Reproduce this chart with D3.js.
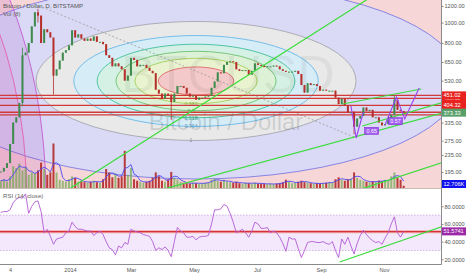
<!DOCTYPE html>
<html>
<head>
<meta charset="utf-8">
<script src="https://cdn.jsdelivr.net/npm/d3@7"></script>
<style>
  html, body { margin: 0; padding: 0; background: #fff; }
  svg { display: block; font-family: "Liberation Sans", Arial, sans-serif; }
</style>
</head>
<body>
<div id="chart"></div>
<script>
// one sample every 3 days starting here
var startDate = "2013-10-26";
var stepDays = 3;

var closes = [
  196, 204, 215, 265, 335, 355, 415, 700, 720, 800,
  960, 1120, 1080, 800, 930, 900, 850, 560, 600, 660,
  720, 740, 780, 920, 850, 880, 840, 820, 840, 820,
  860, 810, 810, 790, 700, 680, 620, 640, 620, 600,
  530, 560, 680, 665, 620, 630, 630, 610, 590, 575,
  480, 460, 435, 460, 450, 420, 460, 500, 500, 490,
  460, 445, 450, 430, 440, 440, 445, 450, 490, 525,
  580, 575, 630, 650, 655, 650, 600, 590, 595, 595,
  565, 590, 640, 630, 625, 615, 620, 620, 625, 620,
  600, 590, 585, 585, 585, 590, 570, 505, 465, 515,
  505, 510, 500, 475, 480, 475, 475, 475, 440, 410,
  435, 405, 375, 375, 320, 350, 360, 395, 380, 385,
  355, 355, 335, 325, 330, 345, 365, 430, 385, 380,
  373.33
];

// thousands
var volumes = [
  23, 26, 21, 32, 53, 49, 58, 44, 51, 35,
  40, 38, 44, 60, 47, 35, 40, 99, 40, 25,
  23, 21, 26, 32, 29, 21, 23, 20, 19, 21,
  23, 20, 19, 26, 47, 40, 30, 38, 29, 32,
  84, 35, 49, 26, 23, 21, 19, 21, 23, 29,
  40, 32, 23, 21, 26, 41, 29, 25, 21, 19,
  18, 17, 19, 18, 17, 18, 19, 20, 25, 27,
  23, 21, 25, 21, 20, 19, 21, 18, 17, 19,
  18, 17, 19, 17, 17, 17, 16, 17, 16, 17,
  18, 20, 25, 21, 18, 19, 21, 23, 20, 19,
  18, 17, 18, 17, 18, 19, 20, 19, 26, 30,
  25, 23, 26, 27, 40, 29, 25, 23, 21, 20,
  22, 21, 23, 22, 25, 23, 32, 40, 29, 25,
  12.706
];

var rsiValues = [
  73, 74, 74, 76, 84, 88, 90, 89, 94, 72,
  80, 85, 86, 74, 50, 54, 46, 37, 43, 44,
  45, 50, 52, 62, 57, 54, 54, 53, 52, 52,
  47, 50, 52, 48, 40, 33, 31, 25, 35, 33,
  39, 37, 54, 52, 51, 50, 48, 47, 46, 40,
  30, 33, 31, 34, 30, 23, 40, 56, 52, 50,
  45, 45, 46, 42, 45, 46, 46, 47, 60, 76,
  76, 77, 82, 80, 72, 62, 50, 52, 54, 50,
  45, 52, 62, 60, 55, 55, 56, 50, 52, 50,
  45, 38, 29, 45, 43, 43, 32, 22, 30, 39,
  40, 40, 39, 39, 40, 38, 37, 40, 30, 22,
  43, 37, 45, 35, 26, 38, 47, 53, 48, 44,
  41, 39, 40, 37, 44, 50, 60, 68, 50, 45,
  51.5741
];

// [sample index, high, low]
var wicks = [[7, 760, 400], [12, 1163, 1000], [17, 690, 455], [55, 460, 345], [114, 380, 295], [127, 450, 365]];

var priceTicks = [1200, 1000, 800, 650, 530, 335, 275, 235, 195];
var rsiTicks = [20, 40, 60, 80];
var timeTicks = ["2013-11-04", "2014-01-01", "2014-03-01", "2014-05-01", "2014-07-01", "2014-09-01", "2014-11-01"];
var timeLabels = ["4", "2014", "Mar", "May", "Jul", "Sep", "Nov"];

var hLines = [451.02, 436.11, 404.32, 375.1, 364.2];
var hLineLabels = [436.11, 451.02, 404.32];
var lastPrice = 373.33;
var lastVolume = "12.706K";
var lastRsi = 51.5741;
var rsiLevel = 51.3;

var fibLevels = [2.618, 1.618, 1, 0.764, 0.618, 0.5, 0.382, 0.236];
var fibLabelLevels = [0.382, 0.5, 0.618, 0.764, 1];
var fibCenter = ["2014-05-03", 528];
var fibDiag = [["2013-12-05", 1187], ["2014-10-05", 283]];

// green drawings [date, price]
var ray1 = [["2014-02-18", 230], ["2014-07-23", 701]];
var ray2 = [["2014-05-07", 180.5], ["2014-12-06", 348]];
var ray3 = [["2014-10-28", 173], ["2014-12-26", 215]];
var seg4 = [["2014-09-22", 410.5], ["2014-12-07", 483.6]];
var ray5 = [["2014-10-11", 322.6], ["2014-12-26", 415]];
var rsiRay = [["2014-09-19", 17], ["2014-12-26", 56.6]];

// purple pattern
var zig1 = [["2014-09-30", 401.6], ["2014-10-05", 283], ["2014-10-12", 376]];
var zig2 = [["2014-11-02", 326], ["2014-11-13", 443], ["2014-11-21", 348.5], ["2014-12-05", 489]];
var zigLabels = [["2014-10-20", 306, "0.65"], ["2014-11-12", 340, "0.57"]];

var W = 466, H = 275;
var plotR = 441.5, mainB = 188, rsiT = 189, rsiB = 264.5;
var font = 5.6;

var parse = d3.utcParse("%Y-%m-%d");
var t0 = parse(startDate);
var data = closes.map(function (c, i) {
  var o = i > 0 ? closes[i - 1] : c;
  return { date: d3.utcDay.offset(t0, i * stepDays), open: o, close: c,
    high: Math.max(o, c), low: Math.min(o, c), volume: volumes[i], rsi: rsiValues[i] };
});
wicks.forEach(function (w) { data[w[0]].high = w[1]; data[w[0]].low = w[2]; });

var day0 = Date.UTC(2014, 0, 1), dayMs = 864e5;
var x = d3.scaleUtc()
  .domain([new Date(day0 - 67.76 * dayMs), new Date(day0 + 360.1 * dayMs)])
  .range([0, 442]);
var y = d3.scaleLog().domain([163.7, 1281]).range([mainB, 0]);
var vy = d3.scaleLinear().domain([0, 100]).range([192, 143]);
var ry = d3.scaleLinear().domain([14.7, 99.5]).range([264, 189]);

var svg = d3.select("#chart").append("svg").attr("width", W).attr("height", H);
svg.append("rect").attr("width", W).attr("height", H).attr("fill", "#fff");

var defs = svg.append("defs");
defs.append("clipPath").attr("id", "mainClip").append("rect")
  .attr("x", 0).attr("y", 0).attr("width", plotR).attr("height", mainB);
defs.append("clipPath").attr("id", "rsiClip").append("rect")
  .attr("x", 0).attr("y", rsiT).attr("width", plotR).attr("height", rsiB - rsiT);

var main = svg.append("g").attr("clip-path", "url(#mainClip)");

// fib circles
var fibStyle = {
  2.618: ["#f7d6d8", "#f07080"], 1.618: ["#dadaf6", "#7d7be2"], 1: ["#e9e9ea", "#a6a6ae"],
  0.764: ["#d6ecf6", "#6ab8e6"], 0.618: ["#d5f1e6", "#3fbf9c"], 0.5: ["#dcf1d6", "#6cc070"],
  0.382: ["#e9f3d0", "#a6cf5e"], 0.236: ["#f4c9c9", "#e06a6a"]
};
var cx = x(parse(fibCenter[0])), cy = y(fibCenter[1]);
var rx1 = 160, ry1 = 59.5;
var rxOuter = 265, ryOuter = 98;
function fibRx(d) { return d === 1.618 ? rxOuter : d === 2.618 ? rxOuter * 1.618 : rx1 * d; }
function fibRy(d) { return d === 1.618 ? ryOuter : d === 2.618 ? ryOuter * 1.618 : ry1 * d; }
main.selectAll(".fib").data(fibLevels).enter().append("ellipse")
  .attr("cx", cx).attr("cy", cy)
  .attr("rx", fibRx).attr("ry", fibRy)
  .attr("fill", function (d) { return fibStyle[d][0]; })
  .attr("stroke", function (d) { return fibStyle[d][1]; })
  .attr("stroke-width", 0.9);

// left arcs
main.append("ellipse").attr("cx", -150).attr("cy", 200).attr("rx", 196).attr("ry", 346)
  .attr("fill", "rgba(156,39,176,0.13)").attr("stroke", "#c35bd0").attr("stroke-width", 0.9);
main.append("ellipse").attr("cx", -150).attr("cy", 200).attr("rx", 177).attr("ry", 312)
  .attr("fill", "rgba(233,30,140,0.08)").attr("stroke", "#e260b4").attr("stroke-width", 0.9);

// watermark
main.append("text").attr("x", 228).attr("y", 92).attr("text-anchor", "middle")
  .attr("font-size", 52).attr("fill", "rgba(0,0,0,0.05)").text("BTCUSD");
main.append("text").attr("x", 226).attr("y", 130).attr("text-anchor", "middle")
  .attr("font-size", 24).attr("fill", "rgba(0,0,0,0.13)").text("Bitcoin / Dollar");

// fib labels
main.selectAll(".fibLabel").data(fibLabelLevels).enter().append("text")
  .attr("x", cx - 5).attr("y", function (d) { return cy + ry1 * d + 2; })
  .attr("text-anchor", "middle").attr("font-size", 5.2)
  .attr("fill", function (d) { return d3.color(fibStyle[d][1]).darker(0.5); })
  .text(function (d) { return d; });

main.append("line")
  .attr("x1", x(parse(fibDiag[0][0]))).attr("y1", y(fibDiag[0][1]))
  .attr("x2", x(parse(fibDiag[1][0]))).attr("y2", y(fibDiag[1][1]))
  .attr("stroke", "#999").attr("stroke-width", 0.8).attr("stroke-dasharray", "2,2");

// horizontal red levels
main.selectAll(".hl").data(hLines).enter().append("line")
  .attr("x1", 0).attr("x2", plotR)
  .attr("y1", function (d) { return y(d); }).attr("y2", function (d) { return y(d); })
  .attr("stroke", "#d23a3a").attr("stroke-width", 1.3);

// volume
main.selectAll(".vol").data(data).enter().append("rect")
  .attr("x", function (d) { return x(d.date) - 1; })
  .attr("width", 2)
  .attr("y", function (d) { return vy(d.volume); })
  .attr("height", function (d) { return Math.max(0, 192 - vy(d.volume)); })
  .attr("fill", function (d) { return d.close >= d.open ? "rgba(110,170,80,0.7)" : "rgba(175,30,30,0.85)"; });

var ma = data.map(function (d, i) {
  var s = data.slice(Math.max(0, i - 2), i + 1);
  return { date: d.date, v: d3.mean(s, function (e) { return e.volume; }) };
});
main.append("path").datum(ma)
  .attr("d", d3.line().x(function (d) { return x(d.date); }).y(function (d) { return vy(d.v); }))
  .attr("fill", "none").attr("stroke", "#4a4af0").attr("stroke-width", 0.9);

// candles
var up = "#3f8a4d", down = "#b5302c";
var candle = main.selectAll(".candle").data(data).enter().append("g");
candle.append("line")
  .attr("x1", function (d) { return x(d.date); }).attr("x2", function (d) { return x(d.date); })
  .attr("y1", function (d) { return y(d.high); }).attr("y2", function (d) { return y(d.low); })
  .attr("stroke", function (d) { return d.close >= d.open ? up : down; }).attr("stroke-width", 0.8);
candle.append("rect")
  .attr("x", function (d) { return x(d.date) - 1; }).attr("width", 2)
  .attr("y", function (d) { return y(Math.max(d.open, d.close)); })
  .attr("height", function (d) { return Math.max(1, Math.abs(y(d.open) - y(d.close))); })
  .attr("fill", function (d) { return d.close >= d.open ? up : down; });

// drawings
function pt(p, scale) { return [x(parse(p[0])), scale(p[1])]; }
function drawLine(g, pts, scale, extL, extR, color, w) {
  var a = pt(pts[0], scale), b = pt(pts[1], scale);
  var k = (b[1] - a[1]) / (b[0] - a[0]);
  var xa = extL ? -10 : a[0], xb = extR ? 460 : b[0];
  g.append("line")
    .attr("x1", xa).attr("y1", a[1] + k * (xa - a[0]))
    .attr("x2", xb).attr("y2", a[1] + k * (xb - a[0]))
    .attr("stroke", color).attr("stroke-width", w);
}
var green = "#3ddc3d";
drawLine(main, ray1, y, true, true, green, 1.2);
drawLine(main, ray2, y, true, true, green, 1.2);
drawLine(main, ray3, y, true, true, green, 1.2);
drawLine(main, seg4, y, false, false, green, 1.2);
drawLine(main, ray5, y, false, true, green, 1.2);

var zigLine = d3.line().x(function (p) { return x(parse(p[0])); }).y(function (p) { return y(p[1]); });
[zig1, zig2].forEach(function (z) {
  main.append("path").attr("d", zigLine(z)).attr("fill", "none")
    .attr("stroke", "#9a40f0").attr("stroke-width", 1.1);
});
zigLabels.forEach(function (l) {
  var lx = x(parse(l[0])), ly = y(l[1]);
  main.append("rect").attr("x", lx - 7).attr("y", ly - 3.5).attr("width", 14).attr("height", 7)
    .attr("fill", "#a45cf2").attr("stroke", "#7a22d0").attr("stroke-width", 0.5);
  main.append("text").attr("x", lx).attr("y", ly + 2).attr("text-anchor", "middle")
    .attr("font-size", 5.4).attr("fill", "#fff").text(l[2]);
});

// RSI pane
var rsiG = svg.append("g").attr("clip-path", "url(#rsiClip)");
rsiG.append("rect").attr("x", 0).attr("width", plotR)
  .attr("y", ry(70)).attr("height", ry(30) - ry(70)).attr("fill", "#f3e8fc");
[70, 30].forEach(function (v) {
  rsiG.append("line").attr("x1", 0).attr("x2", plotR).attr("y1", ry(v)).attr("y2", ry(v))
    .attr("stroke", "#c9a6dd").attr("stroke-width", 0.8).attr("stroke-dasharray", "1.5,1.5");
});
rsiG.append("line").attr("x1", 0).attr("x2", plotR).attr("y1", ry(rsiLevel)).attr("y2", ry(rsiLevel))
  .attr("stroke", "#f2a8a8").attr("stroke-width", 3);
rsiG.append("line").attr("x1", 0).attr("x2", plotR).attr("y1", ry(rsiLevel)).attr("y2", ry(rsiLevel))
  .attr("stroke", "#d8303a").attr("stroke-width", 1.2);
rsiG.append("path").datum(data)
  .attr("d", d3.line().x(function (d) { return x(d.date); }).y(function (d) { return ry(d.rsi); }))
  .attr("fill", "none").attr("stroke", "#b35bd4").attr("stroke-width", 0.9);
drawLine(rsiG, rsiRay, ry, false, true, green, 1.2);

// frame lines
svg.append("line").attr("x1", 0).attr("x2", plotR).attr("y1", 188.5).attr("y2", 188.5)
  .attr("stroke", "#c8c0b8").attr("stroke-width", 1);
svg.append("line").attr("x1", 0).attr("x2", plotR).attr("y1", rsiB).attr("y2", rsiB)
  .attr("stroke", "#8a8a8a").attr("stroke-width", 1);
svg.append("line").attr("x1", plotR).attr("x2", plotR).attr("y1", 0).attr("y2", rsiB)
  .attr("stroke", "#8a8a8a").attr("stroke-width", 1);

// axes
function styleAxis(g) {
  g.select(".domain").remove();
  g.selectAll("line").attr("stroke", "#888");
  g.selectAll("text").attr("font-size", font).attr("fill", "#555")
    .attr("font-family", "Liberation Sans, Arial, sans-serif");
}
svg.append("g").attr("transform", "translate(" + plotR + ",0)")
  .call(d3.axisRight(y).tickValues(priceTicks).tickFormat(d3.format(".2f")).tickSize(2).tickPadding(1))
  .call(styleAxis);
svg.append("g").attr("transform", "translate(" + plotR + ",0)")
  .call(d3.axisRight(ry).tickValues(rsiTicks).tickFormat(d3.format(".4f")).tickSize(2).tickPadding(1))
  .call(styleAxis);
svg.append("g").attr("transform", "translate(0," + rsiB + ")")
  .call(d3.axisBottom(x).tickValues(timeTicks.map(parse))
    .tickFormat(function (d, i) { return timeLabels[i]; }).tickSize(0).tickPadding(4))
  .call(styleAxis);

// value boxes
function box(yy, label, color) {
  svg.append("rect").attr("x", 442).attr("y", yy - 4).attr("width", 24).attr("height", 8).attr("fill", color);
  svg.append("text").attr("x", 443.5).attr("y", yy + 2).attr("font-size", font)
    .attr("fill", "#fff").text(label);
}
hLineLabels.forEach(function (p) { box(y(p), d3.format(".2f")(p), "#e8231f"); });
box(y(lastPrice), d3.format(".2f")(lastPrice), "#57a06a");
box(Math.min(vy(volumes[volumes.length - 1]), 184), lastVolume, "#1010f0");
box(ry(lastRsi), d3.format(".4f")(lastRsi), "#9c2aa8");

// legends
svg.append("text").attr("x", 3).attr("y", 8).attr("font-size", 6.1).attr("fill", "#555")
  .text("Bitcoin / Dollar, D, BITSTAMP");
svg.append("text").attr("x", 3).attr("y", 16).attr("font-size", 6.1).attr("fill", "#666")
  .text("Vol (8)");
svg.append("text").attr("x", 3).attr("y", 198).attr("font-size", 6.1).attr("fill", "#666")
  .text("RSI (14, close)");
</script>
</body>
</html>
